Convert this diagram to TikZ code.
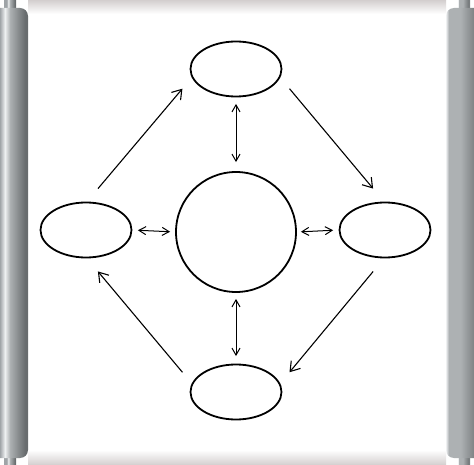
\documentclass[tikz,border=0pt]{standalone}
\usepackage{tikz}
\usetikzlibrary{shapes.geometric}
\usetikzlibrary{arrows.meta}

\definecolor{rodA}{HTML}{9FA4A7}
\definecolor{rodHi}{HTML}{EEF0F1}
\definecolor{rodB}{HTML}{ADB1B3}
\definecolor{rodC}{HTML}{686C6E}
\definecolor{haze}{HTML}{D3CECE}
\pgfdeclarehorizontalshading{rodleft}{100bp}{color(0bp)=(rodA); color(36bp)=(rodA); color(43bp)=(rodHi); color(50bp)=(rodB); color(71bp)=(rodC); color(100bp)=(rodC)}
\pgfdeclarehorizontalshading{rodright}{100bp}{color(0bp)=(rodHi); color(25bp)=(rodHi); color(29bp)=(rodB); color(45bp)=(rodB); color(66bp)=(rodC!75!rodB); color(100bp)=(rodC!75!rodB)}

\tikzset{
 ring/.style={draw,line width=1.8pt,inner sep=0pt},
 bubble/.style={ellipse,ring,minimum width=91pt,minimum height=55pt},
 flow/.style={-{Straight Barb[length=9pt,width=12pt]},line width=1.1pt},
 link/.style={{Straight Barb[length=7pt,width=8pt]}-{Straight Barb[length=7pt,width=8pt]},line width=1pt}
}

\begin{document}
\begin{tikzpicture}[x=1pt,y=-1pt]
 \useasboundingbox (0,0) rectangle (474,465);
 \fill[white] (0,0) rectangle (474,465);
 % haze along the top and bottom edge
 \shade[top color=haze,bottom color=white] (28,0) rectangle (446,14);
 \shade[top color=white,bottom color=haze] (28,450) rectangle (446,465);
 % rods
 \shade[shading=rodleft] (4,0) rectangle (16,10);
 \shade[shading=rodleft] (4,455) rectangle (16,465);
 \shade[shading=rodright] (458,0) rectangle (470,10);
 \shade[shading=rodright] (458,455) rectangle (470,465);
 \shade[shading=rodleft,rounded corners=8pt] (-8,8) rectangle (28,458);
 \shade[shading=rodright,rounded corners=8pt] (446,8) rectangle (482,458);

 \node[ring,circle,minimum size=120pt] (centre) at (236,232) {};
 \node[bubble] (top) at (236,69) {};
 \node[bubble] (bottom) at (236,392) {};
 \node[bubble] (left) at (86,230) {};
 \node[bubble] (right) at (385,230) {};

 \draw[link,shorten <=6.5pt,shorten >=9pt] (top.south) -- (centre.north);
 \draw[link,shorten <=6pt,shorten >=7.5pt] (centre.south) -- (bottom.north);
 \draw[link,shorten <=5.5pt,shorten >=5pt] (left.east) -- (centre.west);
 \draw[link,shorten <=4pt,shorten >=5.5pt] (centre.east) -- (right.west);

 \draw[flow,shorten <=17pt,shorten >=14.5pt] (left.88) -- (top.191);
 \draw[flow,shorten <=14.5pt,shorten >=17pt] (top.-11) -- (right.92);
 \draw[flow,shorten <=17pt,shorten >=14.5pt] (right.-92) -- (bottom.11);
 \draw[flow,shorten <=14.5pt,shorten >=17pt] (bottom.169) -- (left.-88);
\end{tikzpicture}
\end{document}
